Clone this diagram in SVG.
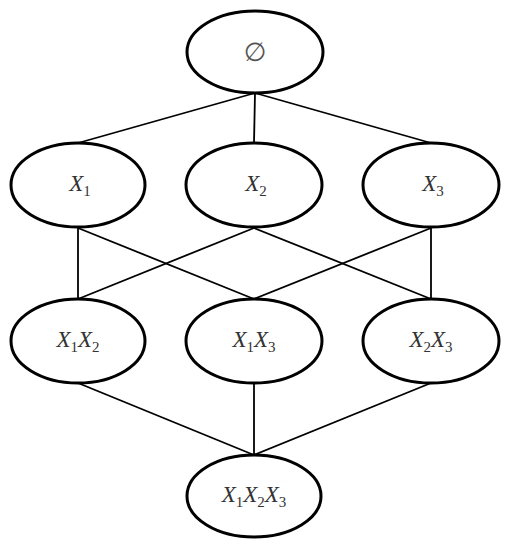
<svg xmlns="http://www.w3.org/2000/svg" width="509" height="550" viewBox="0 0 509 550">
<style>
.n{fill:#fff;stroke:#000;stroke-width:3}
.c line{stroke:#000;stroke-width:1.8}
.t{font-family:"Liberation Serif","Times New Roman",serif;font-size:23px;fill:#333;text-anchor:middle}
.v{font-style:italic}
.s{font-size:15px;font-style:normal}
.e{font-family:"DejaVu Sans",sans-serif;font-size:26px;fill:#555;text-anchor:middle}
</style>
<rect width="509" height="550" fill="#fff"/>
<g class="c" id="connectors">
<line x1="255" y1="93" x2="78" y2="143"/>
<line x1="255" y1="93" x2="254" y2="143"/>
<line x1="255" y1="93" x2="431" y2="143"/>
<line x1="78" y1="228" x2="78" y2="299"/>
<line x1="78" y1="228" x2="254" y2="299"/>
<line x1="254" y1="228" x2="78" y2="299"/>
<line x1="254" y1="228" x2="431" y2="299"/>
<line x1="431" y1="228" x2="431" y2="299"/>
<line x1="431" y1="228" x2="254" y2="299"/>
<line x1="78" y1="383" x2="254" y2="455"/>
<line x1="254" y1="383" x2="254" y2="455"/>
<line x1="431" y1="383" x2="254" y2="455"/>
</g>
<g id="empty"><ellipse class="n" cx="255" cy="52" rx="68" ry="41"/><text class="e" x="255" y="61">∅</text></g>
<g id="x1"><ellipse class="n" cx="78" cy="185" rx="67" ry="42"/><text class="t" x="80" y="191"><tspan class="v">X</tspan><tspan class="s" dy="5">1</tspan></text></g>
<g id="x2"><ellipse class="n" cx="254" cy="185" rx="68" ry="42"/><text class="t" x="256" y="191"><tspan class="v">X</tspan><tspan class="s" dy="5">2</tspan></text></g>
<g id="x3"><ellipse class="n" cx="431" cy="185" rx="68" ry="42"/><text class="t" x="433" y="191"><tspan class="v">X</tspan><tspan class="s" dy="5">3</tspan></text></g>
<g id="x1x2"><ellipse class="n" cx="78" cy="341" rx="67" ry="42"/><text class="t" x="78" y="347"><tspan class="v">X</tspan><tspan class="s" dy="5">1</tspan><tspan class="v" dy="-5">X</tspan><tspan class="s" dy="5">2</tspan></text></g>
<g id="x1x3"><ellipse class="n" cx="254" cy="341" rx="68" ry="42"/><text class="t" x="254" y="347"><tspan class="v">X</tspan><tspan class="s" dy="5">1</tspan><tspan class="v" dy="-5">X</tspan><tspan class="s" dy="5">3</tspan></text></g>
<g id="x2x3"><ellipse class="n" cx="431" cy="341" rx="68" ry="42"/><text class="t" x="431" y="347"><tspan class="v">X</tspan><tspan class="s" dy="5">2</tspan><tspan class="v" dy="-5">X</tspan><tspan class="s" dy="5">3</tspan></text></g>
<g id="x1x2x3"><ellipse class="n" cx="254" cy="496" rx="67" ry="41"/><text class="t" x="254" y="502"><tspan class="v">X</tspan><tspan class="s" dy="5">1</tspan><tspan class="v" dy="-5">X</tspan><tspan class="s" dy="5">2</tspan><tspan class="v" dy="-5">X</tspan><tspan class="s" dy="5">3</tspan></text></g>
</svg>
